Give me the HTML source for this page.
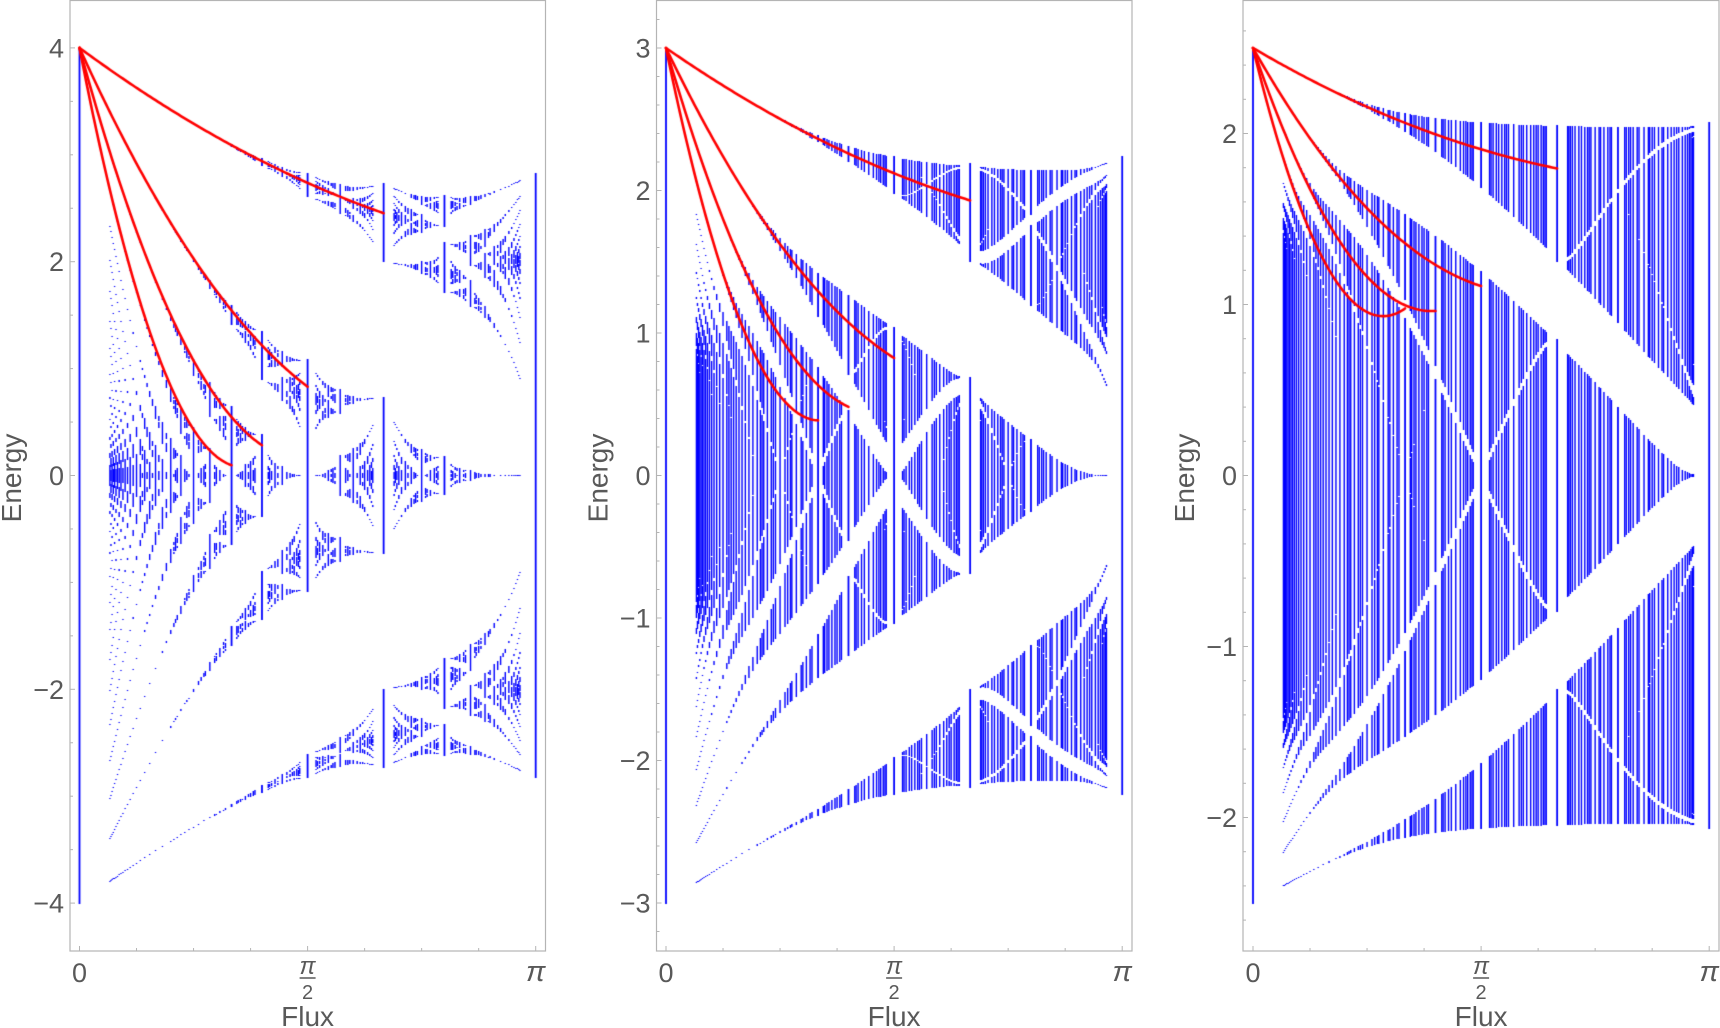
<!DOCTYPE html>
<html><head><meta charset="utf-8">
<style>
html,body{margin:0;padding:0;background:#fff;}
#wrap{position:relative;width:1720px;height:1028px;overflow:hidden;}
canvas,svg{position:absolute;left:0;top:0;}
text{font-family:"Liberation Sans",sans-serif;fill:#595959;}
</style></head>
<body><div id="wrap">
<canvas id="c" width="1720" height="1028"></canvas>
<svg id="s" width="1720" height="1028" xmlns="http://www.w3.org/2000/svg"></svg>
</div>
<script>
const panels=[
 {L:70,R:545.5,x0:79.5,W:456.2,y0:475.5,ppu:106.9,t:1,Emax:4,labs:[-4,-2,0,2,4],minor:0.5},
 {L:656.5,R:1132,x0:666,W:456.2,y0:475.5,ppu:142.5,t:0.5,Emax:3,labs:[-3,-2,-1,0,1,2,3],minor:0.2},
 {L:1243,R:1719,x0:1253,W:456.2,y0:475.5,ppu:171,t:0.25,Emax:2.5,labs:[-2,-1,0,1,2],minor:0.2}
];
const TOP=0.5,BOT=951;
const ctx=document.getElementById('c').getContext('2d');
function gcd(a,b){while(b){[a,b]=[b,a%b];}return a;}
function tr(E,a,q,t){
  const nu=Math.PI/(2*q);
  let a00=1,a01=0,a10=0,a11=1;
  for(let n=1;n<=q;n++){
    const v=E-2*t*Math.cos(2*Math.PI*a*n+nu);
    const b00=v*a00-a10,b01=v*a01-a11;
    a10=a00;a11=a01;a00=b00;a01=b01;
  }
  return a00+a11;
}
ctx.fillStyle='#0000ff';
for(const P of panels){
  const pyTop=Math.floor(P.y0-(P.Emax+0.05)*P.ppu), pyBot=Math.ceil(P.y0+(P.Emax+0.05)*P.ppu);
  for(let q=1;q<=30;q++){
    for(let p=0;p<=Math.floor(q/2);p++){
      if(gcd(p,q)!==1)continue;
      const a=p/q;
      const B=2+2*Math.pow(P.t,q);
      const w=q<=6?1.8:1.4;
      const x=P.x0+(2*a)*P.W - w/2;
      let prev=tr((P.y0-pyTop)/P.ppu,a,q,P.t);
      let runStart=-1;
      for(let py=pyTop;py<pyBot;py++){
        const cur=tr((P.y0-(py+1))/P.ppu,a,q,P.t);
        const mn=Math.min(prev,cur),mx=Math.max(prev,cur);
        const on=(mn<=B&&mx>=-B);
        if(on){if(runStart<0)runStart=py;}
        else if(runStart>=0){ctx.fillRect(x,runStart,w,py-runStart);runStart=-1;}
        prev=cur;
      }
      if(runStart>=0)ctx.fillRect(x,runStart,w,pyBot-runStart);
    }
  }
}
ctx.strokeStyle='#ff0000';ctx.lineWidth=2.6;ctx.lineJoin='round';ctx.lineCap='round';
for(const P of panels){
  const t=P.t,E0=2+2*t;
  for(let n=0;n<4;n++){
    const end=2*Math.PI/(n+3);
    ctx.beginPath();
    for(let i=0;i<=120;i++){
      const f=end*i/120;
      const E=E0-(2*n+1)*Math.sqrt(t)*f+(2*n*n+2*n+1)*(1+t)/16*f*f;
      const x=P.x0+f/Math.PI*P.W, y=P.y0-E*P.ppu;
      if(i===0)ctx.moveTo(x,y);else ctx.lineTo(x,y);
    }
    ctx.stroke();
  }
}
const NS='http://www.w3.org/2000/svg';
const s=document.getElementById('s');
function el(tag,attrs,txt){const e=document.createElementNS(NS,tag);for(const k in attrs)e.setAttribute(k,attrs[k]);if(txt!==undefined)e.textContent=txt;s.appendChild(e);return e;}
for(const P of panels){
  el('rect',{x:P.L,y:TOP,width:P.R-P.L,height:BOT-TOP,fill:'none',stroke:'#b4b4b4','stroke-width':1.2});
  const hi=Math.floor((P.y0-TOP)/P.ppu/P.minor);
  const lo2=Math.ceil(-(BOT-P.y0)/P.ppu/P.minor);
  for(let k=lo2;k<=hi;k++){
    const E=k*P.minor; const y=P.y0-E*P.ppu;
    if(y<2||y>BOT-2)continue;
    const major=Math.abs(E-Math.round(E))<1e-6 && (P.labs.includes(Math.round(E))||P.minor<0.5);
    el('line',{x1:P.L,x2:P.L+(major?5:3),y1:y,y2:y,stroke:'#b4b4b4','stroke-width':1});
  }
  for(const v of P.labs){
    const y=P.y0-v*P.ppu;
    el('text',{x:P.L-6,y:y+9.5,'font-size':27,'text-anchor':'end'},(v<0?'\u2212':'')+Math.abs(v));
  }
  for(const f of [0,0.5,1]){
    const x=P.x0+f*P.W;
    el('line',{x1:x,x2:x,y1:BOT,y2:BOT-5,stroke:'#b4b4b4','stroke-width':1});
  }
  for(const f of [0.125,0.25,0.375,0.625,0.75,0.875]){
    const x=P.x0+f*P.W;
    el('line',{x1:x,x2:x,y1:BOT,y2:BOT-3,stroke:'#b4b4b4','stroke-width':1});
  }
  el('text',{x:P.x0,y:982,'font-size':27,'text-anchor':'middle'},'0');
  const xm=P.x0+P.W/2;
  el('text',{x:xm,y:974,'font-size':24,'font-style':'italic','text-anchor':'middle'},'\u03c0');
  el('line',{x1:xm-8,x2:xm+8,y1:978,y2:978,stroke:'#595959','stroke-width':1.4});
  el('text',{x:xm,y:999,'font-size':20,'text-anchor':'middle'},'2');
  el('text',{x:P.x0+P.W,y:981,'font-size':29,'font-style':'italic','text-anchor':'middle'},'\u03c0');
  el('text',{x:xm,y:1026,'font-size':28,'text-anchor':'middle'},'Flux');
  el('text',{x:0,y:0,'font-size':28,'text-anchor':'middle',transform:`translate(${P.L-49},478) rotate(-90)`},'Energy');
}
</script>
</body></html>
